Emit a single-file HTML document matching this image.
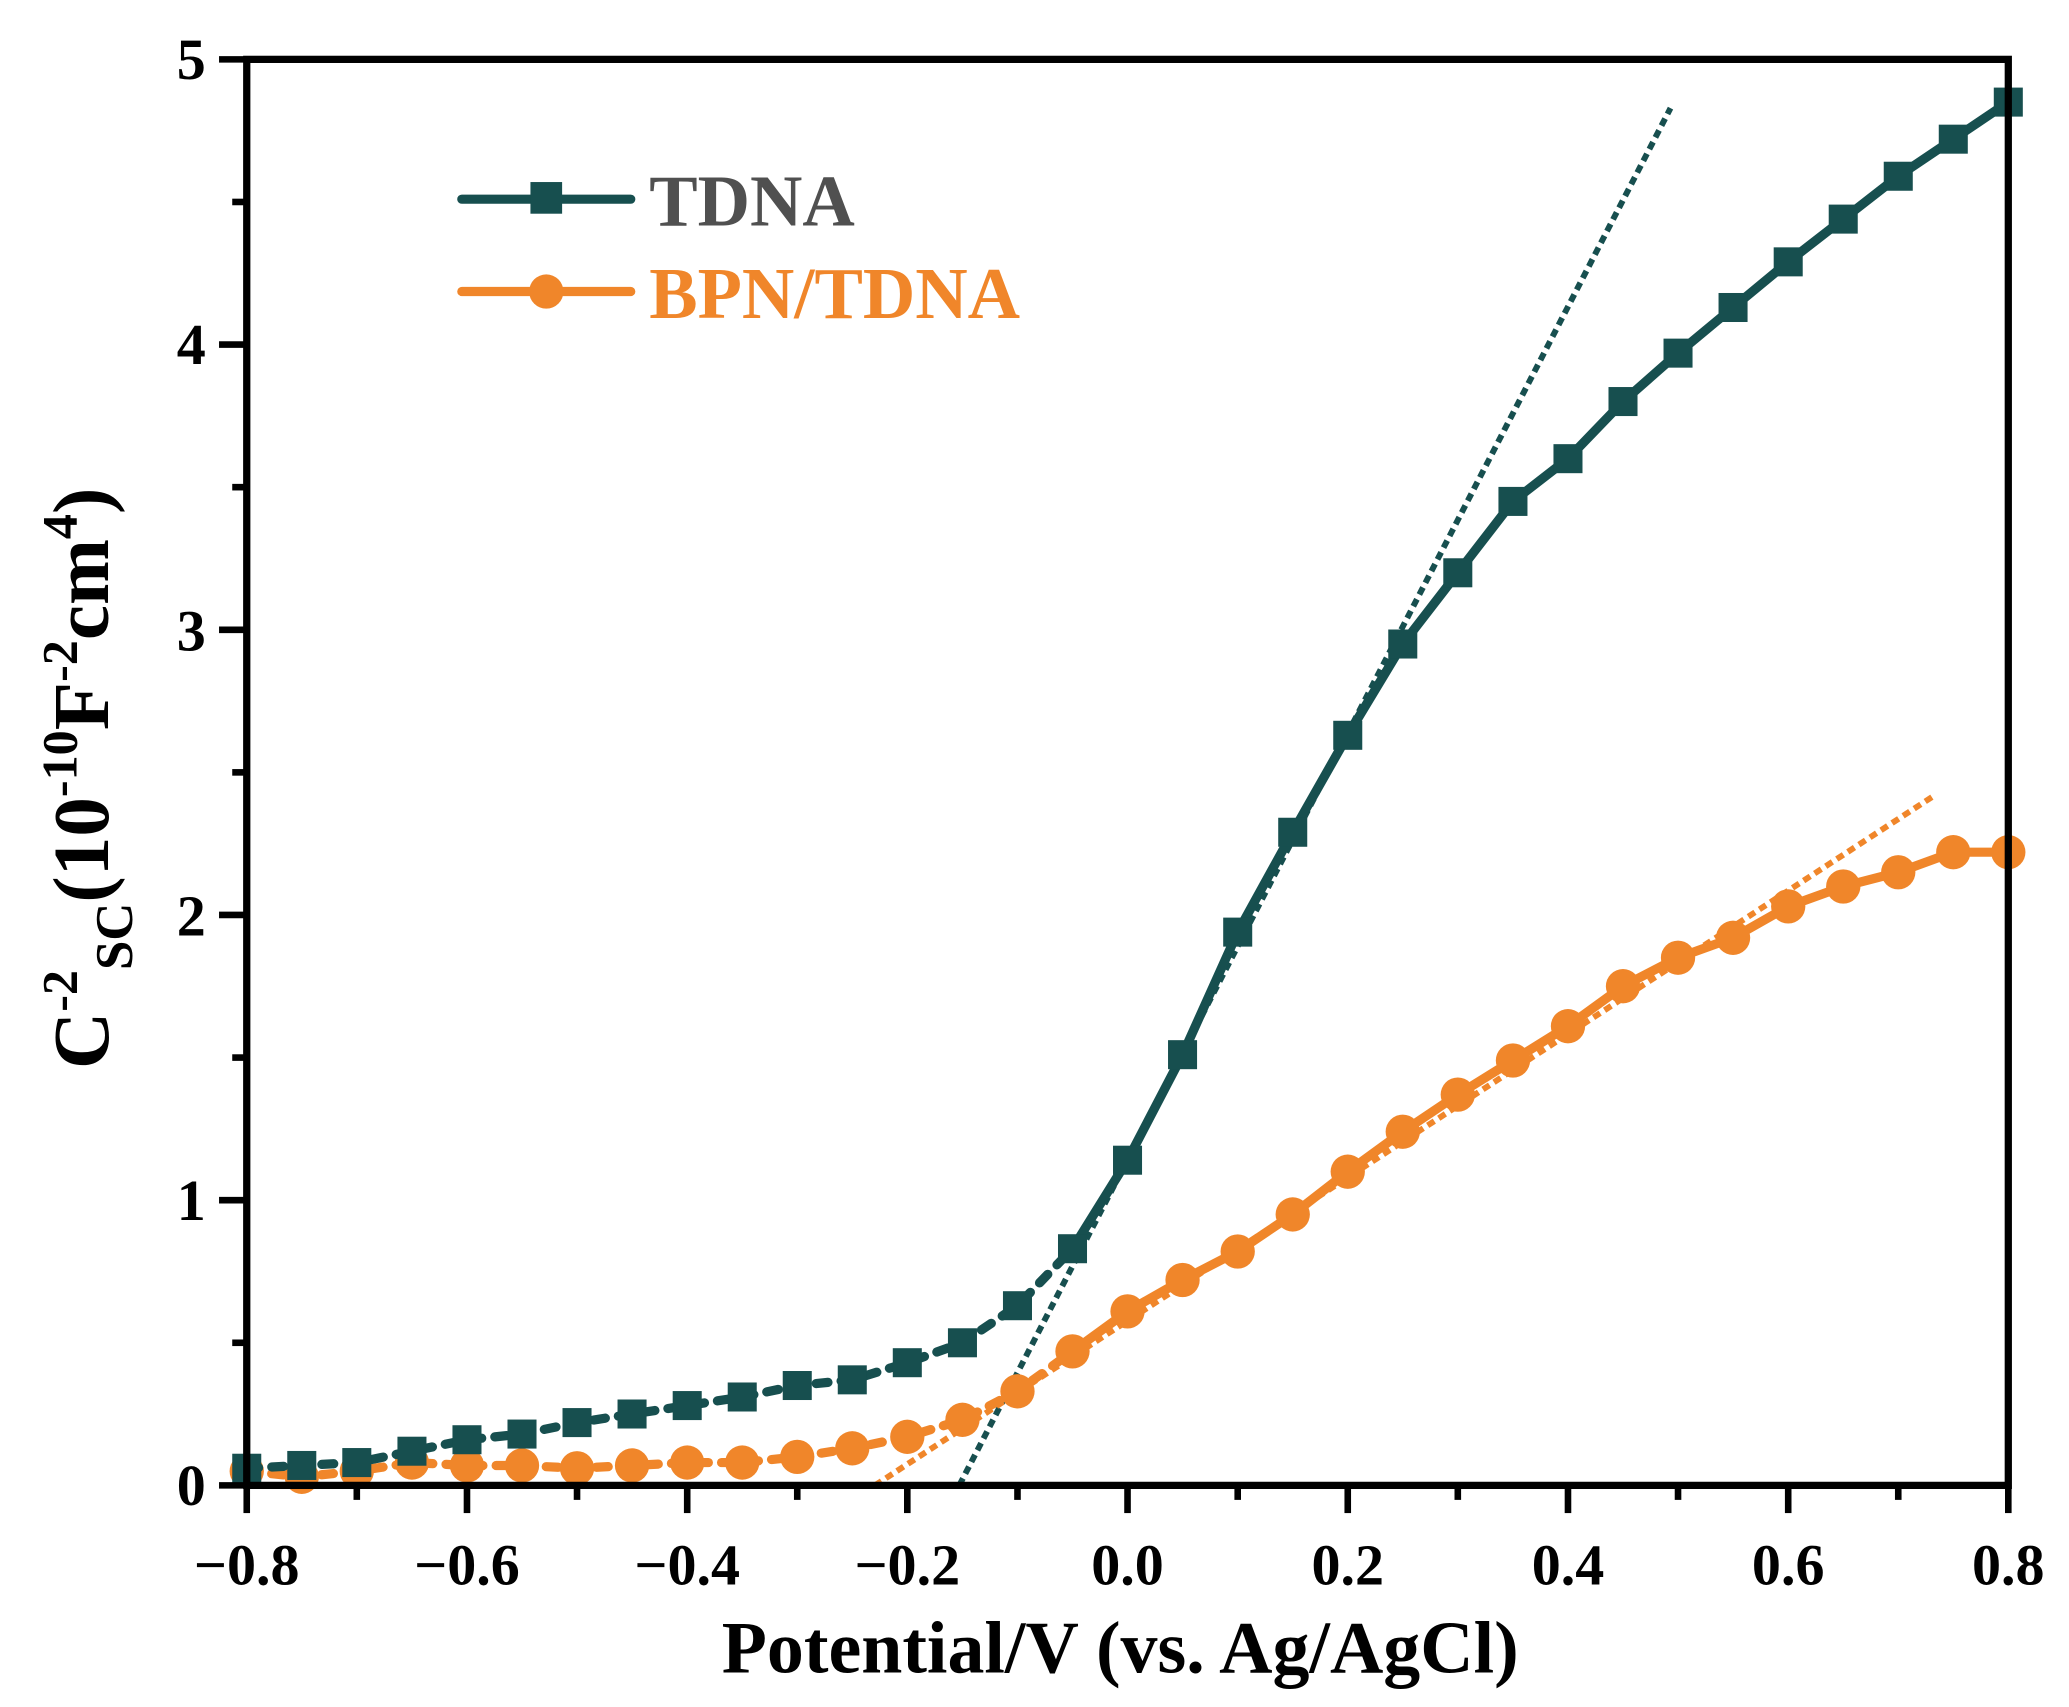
<!DOCTYPE html>
<html><head><style>html,body{margin:0;padding:0;background:#fff;}svg{display:block;}</style></head>
<body>
<svg width="2069" height="1707" viewBox="0 0 1568 1294" preserveAspectRatio="none" xmlns="http://www.w3.org/2000/svg" xmlns:xlink="http://www.w3.org/1999/xlink" font-family="Liberation Serif, serif" font-weight="bold">
<defs>
<rect id="sq" x="-11" y="-11" width="22" height="22" fill="#174f4f"/>
<circle id="ci" r="13" fill="#f0862a"/>
</defs>
<!-- fit lines -->
<line x1="727" y1="1126" x2="1266" y2="82" stroke="#174f4f" stroke-width="4.5" stroke-dasharray="6 4"/>
<line x1="663" y1="1126" x2="1466" y2="603" stroke="#f0862a" stroke-width="4.5" stroke-dasharray="6 4"/>
<!-- BPN -->
<polyline fill="none" stroke="#f0862a" stroke-width="7" stroke-dasharray="9 10" stroke-linecap="round" points="187,1115.2 228.7,1119.5 270.4,1115.2 312.2,1108.7 353.9,1110.9 395.6,1110.9 437.3,1113 479,1110.9 520.8,1108.7 562.5,1108.7 604.2,1104.4 645.9,1097.9 687.6,1089.2 729.4,1076.3 771.1,1054.7 812.8,1024.4"/>
<polyline fill="none" stroke="#f0862a" stroke-width="7" stroke-linejoin="round" points="812.8,1024.4 854.5,994.1 896.2,970.3 938,948.7 979.7,920.6 1021.4,888.2 1063.1,857.9 1104.8,829.8 1146.6,803.9 1188.3,777.9 1230,747.6 1271.7,726 1313.4,710.9 1355.2,687.1 1396.9,672 1438.6,661.2 1480.3,646 1522,646"/>
<g>
<use href="#ci" x="187" y="1115.2"/><use href="#ci" x="228.7" y="1119.5"/><use href="#ci" x="270.4" y="1115.2"/><use href="#ci" x="312.2" y="1108.7"/><use href="#ci" x="353.9" y="1110.9"/><use href="#ci" x="395.6" y="1110.9"/><use href="#ci" x="437.3" y="1113"/><use href="#ci" x="479" y="1110.9"/><use href="#ci" x="520.8" y="1108.7"/><use href="#ci" x="562.5" y="1108.7"/><use href="#ci" x="604.2" y="1104.4"/><use href="#ci" x="645.9" y="1097.9"/><use href="#ci" x="687.6" y="1089.2"/><use href="#ci" x="729.4" y="1076.3"/><use href="#ci" x="771.1" y="1054.7"/><use href="#ci" x="812.8" y="1024.4"/><use href="#ci" x="854.5" y="994.1"/><use href="#ci" x="896.2" y="970.3"/><use href="#ci" x="938" y="948.7"/><use href="#ci" x="979.7" y="920.6"/><use href="#ci" x="1021.4" y="888.2"/><use href="#ci" x="1063.1" y="857.9"/><use href="#ci" x="1104.8" y="829.8"/><use href="#ci" x="1146.6" y="803.9"/><use href="#ci" x="1188.3" y="777.9"/><use href="#ci" x="1230" y="747.6"/><use href="#ci" x="1271.7" y="726"/><use href="#ci" x="1313.4" y="710.9"/><use href="#ci" x="1355.2" y="687.1"/><use href="#ci" x="1396.9" y="672"/><use href="#ci" x="1438.6" y="661.2"/><use href="#ci" x="1480.3" y="646"/><use href="#ci" x="1522" y="646"/>
</g>
<!-- TDNA -->
<polyline fill="none" stroke="#174f4f" stroke-width="7" stroke-dasharray="9 10" stroke-linecap="round" points="187,1113 228.7,1110.9 270.4,1108.7 312.2,1100.1 353.9,1091.4 395.6,1087.1 437.3,1078.4 479,1071.9 520.8,1065.5 562.5,1059 604.2,1050.3 645.9,1046 687.6,1033 729.4,1017.9 771.1,989.8 812.8,946.6"/>
<polyline fill="none" stroke="#174f4f" stroke-width="7" stroke-linejoin="round" points="812.8,946.6 854.5,879.5 896.2,799.5 938,706.6 979.7,630.9 1021.4,557.4 1063.1,488.2 1104.8,434.2 1146.6,380.1 1188.3,347.7 1230,304.4 1271.7,267.7 1313.4,233.1 1355.2,198.5 1396.9,166.1 1438.6,133.6 1480.3,105.5 1522,77.4"/>
<g>
<use href="#sq" x="187" y="1113"/><use href="#sq" x="228.7" y="1110.9"/><use href="#sq" x="270.4" y="1108.7"/><use href="#sq" x="312.2" y="1100.1"/><use href="#sq" x="353.9" y="1091.4"/><use href="#sq" x="395.6" y="1087.1"/><use href="#sq" x="437.3" y="1078.4"/><use href="#sq" x="479" y="1071.9"/><use href="#sq" x="520.8" y="1065.5"/><use href="#sq" x="562.5" y="1059"/><use href="#sq" x="604.2" y="1050.3"/><use href="#sq" x="645.9" y="1046"/><use href="#sq" x="687.6" y="1033"/><use href="#sq" x="729.4" y="1017.9"/><use href="#sq" x="771.1" y="989.8"/><use href="#sq" x="812.8" y="946.6"/><use href="#sq" x="854.5" y="879.5"/><use href="#sq" x="896.2" y="799.5"/><use href="#sq" x="938" y="706.6"/><use href="#sq" x="979.7" y="630.9"/><use href="#sq" x="1021.4" y="557.4"/><use href="#sq" x="1063.1" y="488.2"/><use href="#sq" x="1104.8" y="434.2"/><use href="#sq" x="1146.6" y="380.1"/><use href="#sq" x="1188.3" y="347.7"/><use href="#sq" x="1230" y="304.4"/><use href="#sq" x="1271.7" y="267.7"/><use href="#sq" x="1313.4" y="233.1"/><use href="#sq" x="1355.2" y="198.5"/><use href="#sq" x="1396.9" y="166.1"/><use href="#sq" x="1438.6" y="133.6"/><use href="#sq" x="1480.3" y="105.5"/><use href="#sq" x="1522" y="77.4"/>
</g>
<!-- legend -->
<line x1="350" y1="151" x2="478" y2="151" stroke="#174f4f" stroke-width="7" stroke-linecap="round"/>
<rect x="402" y="138" width="24" height="24" fill="#174f4f"/>
<text x="492" y="171" font-size="55" fill="#505050">TDNA</text>
<line x1="350" y1="221" x2="478" y2="221" stroke="#f0862a" stroke-width="7" stroke-linecap="round"/>
<circle cx="414" cy="221" r="13" fill="#f0862a"/>
<text x="492" y="241" font-size="55" fill="#f0862a">BPN/TDNA</text>
<!-- axes -->
<rect x="187" y="45" width="1335" height="1081" fill="none" stroke="#000" stroke-width="5.5"/>
<g stroke="#000" stroke-width="5">
<line x1="187" y1="1126" x2="187" y2="1147"/><line x1="270.4" y1="1126" x2="270.4" y2="1137"/><line x1="353.9" y1="1126" x2="353.9" y2="1147"/><line x1="437.3" y1="1126" x2="437.3" y2="1137"/><line x1="520.8" y1="1126" x2="520.8" y2="1147"/><line x1="604.2" y1="1126" x2="604.2" y2="1137"/><line x1="687.6" y1="1126" x2="687.6" y2="1147"/><line x1="771.1" y1="1126" x2="771.1" y2="1137"/><line x1="854.5" y1="1126" x2="854.5" y2="1147"/><line x1="938" y1="1126" x2="938" y2="1137"/><line x1="1021.4" y1="1126" x2="1021.4" y2="1147"/><line x1="1104.8" y1="1126" x2="1104.8" y2="1137"/><line x1="1188.3" y1="1126" x2="1188.3" y2="1147"/><line x1="1271.7" y1="1126" x2="1271.7" y2="1137"/><line x1="1355.2" y1="1126" x2="1355.2" y2="1147"/><line x1="1438.6" y1="1126" x2="1438.6" y2="1137"/><line x1="1522" y1="1126" x2="1522" y2="1147"/>
<line x1="187" y1="1126" x2="166" y2="1126"/><line x1="187" y1="1017.9" x2="176" y2="1017.9"/><line x1="187" y1="909.8" x2="166" y2="909.8"/><line x1="187" y1="801.7" x2="176" y2="801.7"/><line x1="187" y1="693.6" x2="166" y2="693.6"/><line x1="187" y1="585.5" x2="176" y2="585.5"/><line x1="187" y1="477.4" x2="166" y2="477.4"/><line x1="187" y1="369.3" x2="176" y2="369.3"/><line x1="187" y1="261.2" x2="166" y2="261.2"/><line x1="187" y1="153.1" x2="176" y2="153.1"/><line x1="187" y1="45" x2="166" y2="45"/>
</g>
<g font-size="44" text-anchor="middle">
<text x="187" y="1201">−0.8</text><text x="353.9" y="1201">−0.6</text><text x="520.8" y="1201">−0.4</text><text x="687.6" y="1201">−0.2</text><text x="854.5" y="1201">0.0</text><text x="1021.4" y="1201">0.2</text><text x="1188.3" y="1201">0.4</text><text x="1355.2" y="1201">0.6</text><text x="1522" y="1201">0.8</text>
</g>
<g font-size="44" text-anchor="end">
<text x="156" y="1141">0</text><text x="156" y="925">1</text><text x="156" y="709">2</text><text x="156" y="493">3</text><text x="156" y="276">4</text><text x="156" y="60">5</text>
</g>
<text x="849" y="1268" font-size="56" text-anchor="middle">Potential/V (vs. Ag/AgCl)</text>
<text transform="translate(82,590) rotate(-90)" font-size="60" text-anchor="middle">C<tspan dy="-24" font-size="38">-2</tspan><tspan dy="42" font-size="40">SC</tspan><tspan dy="-18">(10</tspan><tspan dy="-24" font-size="38">-10</tspan><tspan dy="24">F</tspan><tspan dy="-24" font-size="38">-2</tspan><tspan dy="24">cm</tspan><tspan dy="-24" font-size="38">4</tspan><tspan dy="24">)</tspan></text>
</svg>
</body></html>
